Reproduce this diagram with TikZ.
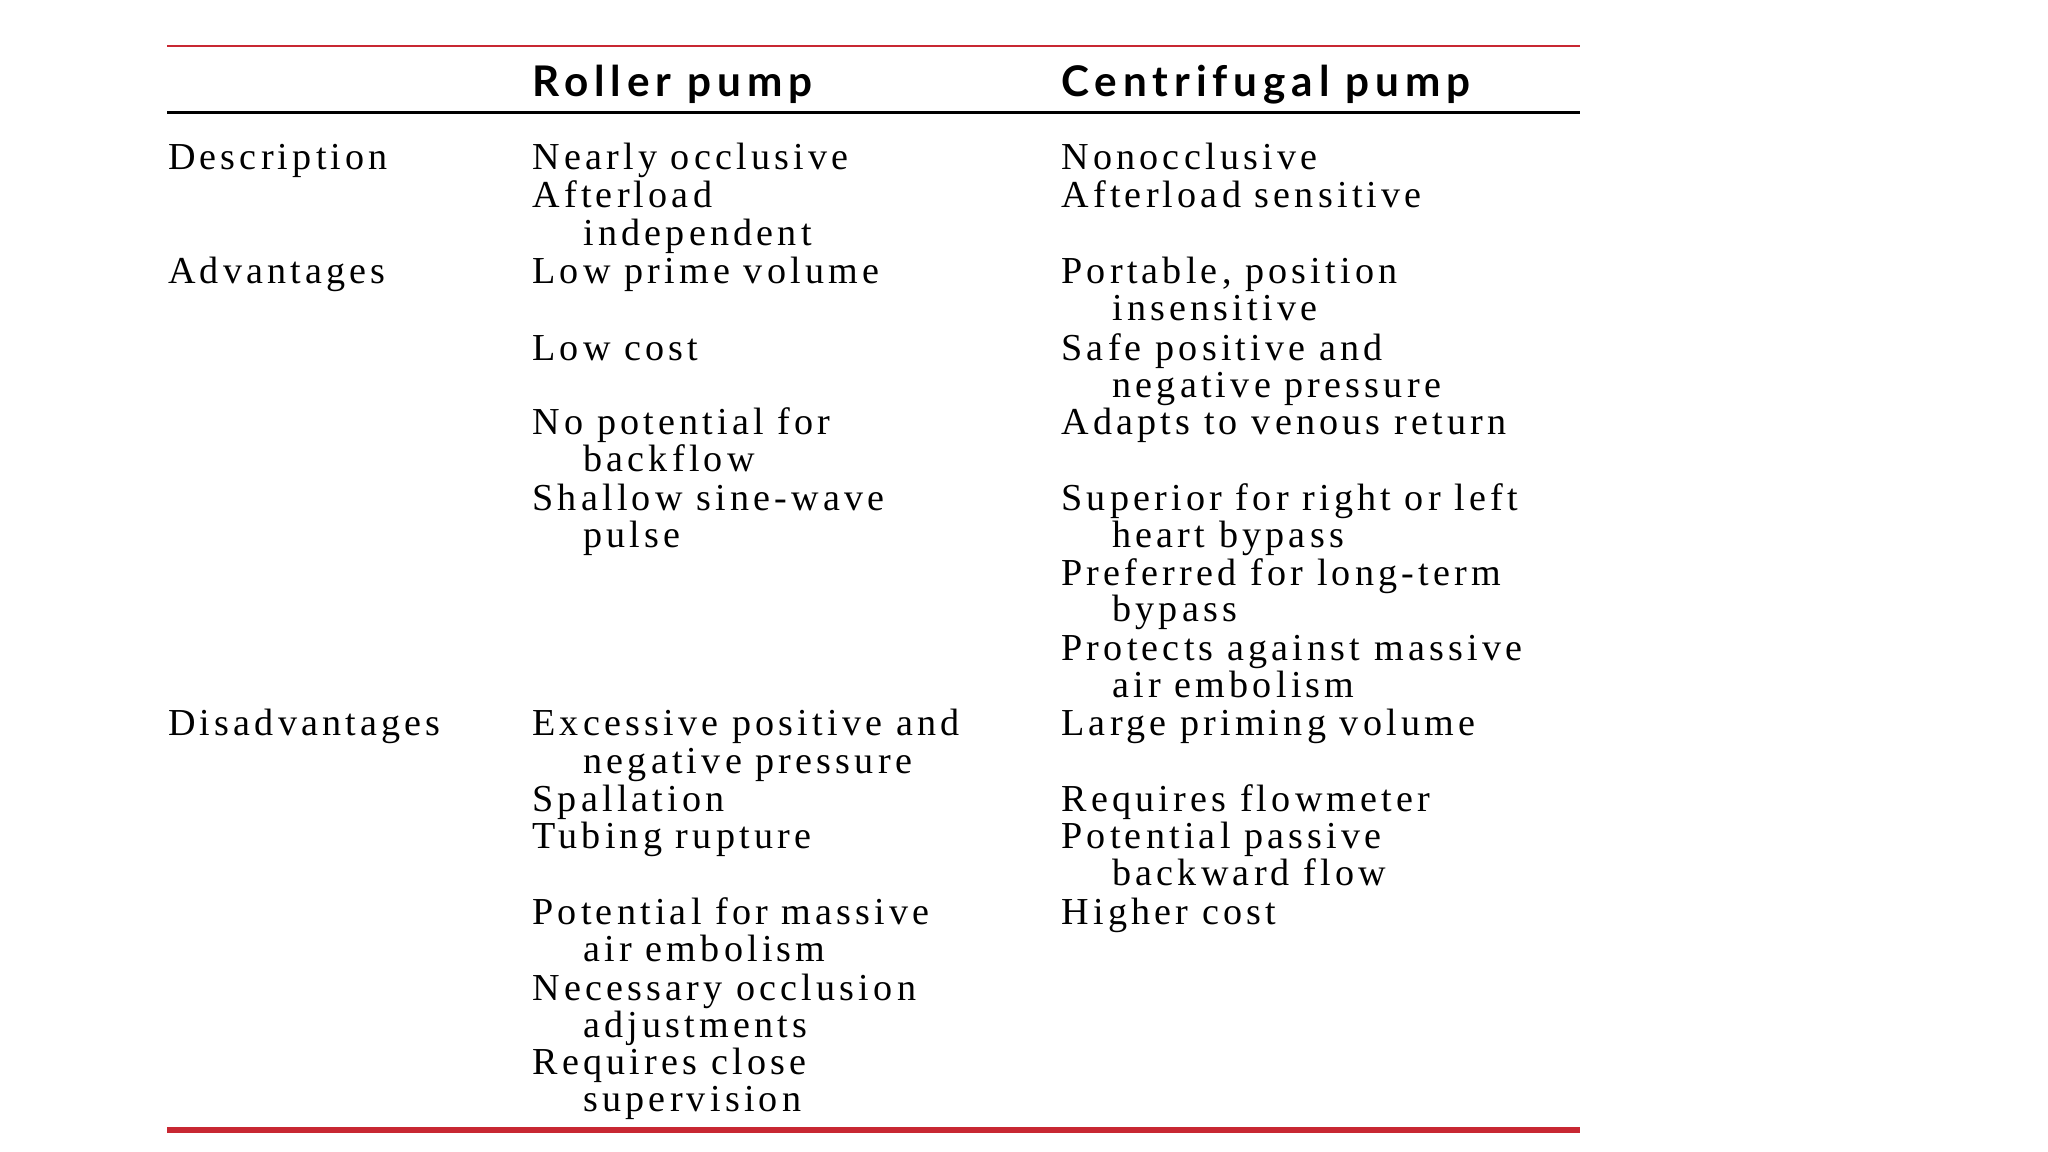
\documentclass[tikz,border=0pt]{standalone}
\usepackage{fontspec}
\setmainfont[LetterSpace=11]{Liberation Serif}
\newfontfamily\hdfont[LetterSpace=14]{Lato}
\definecolor{rl}{RGB}{200,40,50}
\begin{document}
\begin{tikzpicture}[x=0.01cm,y=-0.01cm,
  tx/.style={anchor=base west,inner sep=0pt,yshift=-0.08cm,font=\fontsize{8.3}{9}\selectfont},
  hd/.style={anchor=base west,inner sep=0pt,yshift=-0.1cm,font=\hdfont\fontsize{9.2}{9}\selectfont\bfseries}]
\useasboundingbox (0,0) rectangle (1568,882);
\draw[rl,line width=0.4pt] (128,35) -- (1210,35);
\draw[line width=0.6pt] (128,86) -- (1210,86);
\draw[rl,line width=1.2pt] (128,865) -- (1210,865);
\node[hd] (h1) at (407,64) {Roller pump};
\node[hd] (h2) at (812,64) {Centrifugal pump};
\node[tx] (a1) at (128,122) {Description};
\node[tx] (a2) at (128,209) {Advantages};
\node[tx] (a3) at (128,555) {Disadvantages};
\foreach \y/\xx/\t [count=\i] in {
122/407/Nearly occlusive,151/407/Afterload,180/446/independent,
209/407/Low prime volume,268/407/Low cost,325/407/No potential for,353/446/backflow,
383/407/Shallow sine-wave,411/446/pulse,
555/407/Excessive positive and,584/446/negative pressure,613/407/Spallation,642/407/Tubing rupture,
700/407/Potential for massive,728/446/air embolism,758/407/Necessary occlusion,786/446/adjustments,
815/407/Requires close,843/446/supervision}
  \node[tx] (r\i) at (\xx,\y) {\t};
\foreach \y/\xx/\t [count=\i] in {
122/812/Nonocclusive,151/812/Afterload sensitive,
209/812/{Portable, position},237/851/insensitive,268/812/Safe positive and,296/851/negative pressure,
325/812/Adapts to venous return,383/812/Superior for right or left,411/851/heart bypass,
440/812/Preferred for long-term,468/851/bypass,498/812/Protects against massive,526/851/air embolism,
555/812/Large priming volume,613/812/Requires flowmeter,642/812/Potential passive,670/851/backward flow,
700/812/Higher cost}
  \node[tx] (c\i) at (\xx,\y) {\t};
\end{tikzpicture}
\end{document}
